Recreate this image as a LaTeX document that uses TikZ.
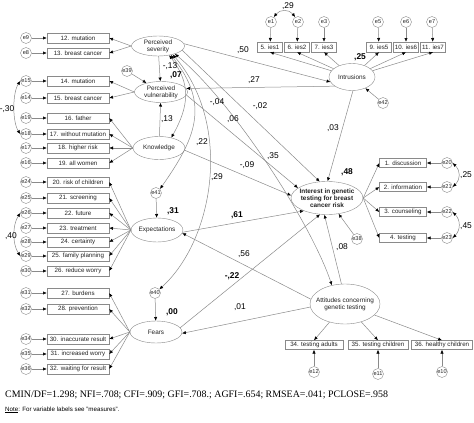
\documentclass[tikz,border=0pt]{standalone}
\usepackage{fontspec}
\setmainfont{Liberation Serif}
\setsansfont{Liberation Sans}
\usetikzlibrary{arrows.meta,shapes.geometric}
\definecolor{LineGray}{HTML}{8A8A8A}
\definecolor{InkText}{HTML}{222222}

\begin{document}
\begin{tikzpicture}[
  x=1pt,y=-1pt,
  >={Latex[length=3.8pt,width=3.3pt,color=black]},
  lat/.style={ellipse, draw=LineGray, inner sep=0pt, align=center, text=InkText, font=\sffamily\fontsize{6.4}{7.2}\selectfont},
  ind/.style={rectangle, draw=LineGray, inner sep=0.8pt, minimum height=10, text=InkText, font=\sffamily\fontsize{6.2}{7}\selectfont},
  err/.style={circle, draw=LineGray, inner sep=0pt, minimum size=11, text=InkText, font=\sffamily\fontsize{5.6}{6}\selectfont},
  reg/.style={->, draw=LineGray, line width=0.5pt},
  cov/.style={<->, draw=LineGray, line width=0.5pt},
  coef/.style={inner sep=0pt, font=\sffamily\fontsize{8.4}{9}\selectfont},
  rsq/.style={inner sep=0pt, font=\sffamily\bfseries\fontsize{8.4}{9}\selectfont}
]
\useasboundingbox (0,0) rectangle (474,423);

% latent variables
\node[lat, minimum width=53, minimum height=20] (sev) at (158,46) {Perceived\\severity};
\node[lat, minimum width=53, minimum height=21] (vul) at (161,92) {Perceived\\vulnerability};
\node[lat, minimum width=52, minimum height=23] (kno) at (159,148) {Knowledge};
\node[lat, minimum width=50, minimum height=24] (exp) at (157,230) {Expectations};
\node[lat, minimum width=52, minimum height=22] (fea) at (156,332) {Fears};
\node[lat, minimum width=46, minimum height=27] (int) at (352,77) {Intrusions};
\node[lat, minimum width=72, minimum height=33, inner xsep=-3pt, font=\sffamily\bfseries\fontsize{6.4}{7.2}\selectfont] (gen) at (327,198) {Interest in genetic\\testing for breast\\cancer risk};
\node[lat, minimum width=70, minimum height=40, inner xsep=-6pt] (att) at (345,304) {Attitudes concerning\\genetic testing};

% residuals of latents
\node[err] (e39) at (127,71) {e39};
\node[err] (e41) at (156,193) {e41};
\node[err] (e40) at (155,293) {e40};
\node[err] (e42) at (383,103) {e42};
\node[err] (e38) at (357,239) {e38};

% left indicators
\node[ind, minimum width=62] (i12) at (78,38) {12. mutation};
\node[ind, minimum width=62] (i13) at (78,53) {13. breast cancer};
\node[ind, minimum width=62] (i14) at (78,81) {14. mutation};
\node[ind, minimum width=62] (i15) at (78,98) {15. breast cancer};
\node[ind, minimum width=62] (i16) at (78,118) {16. father};
\node[ind, minimum width=62] (i17) at (78,134) {17. without mutation};
\node[ind, minimum width=62] (i18) at (78,148) {18. higher risk};
\node[ind, minimum width=62] (i19) at (78,163) {19. all women};
\node[ind, minimum width=62] (i20) at (78,182) {20. risk of children};
\node[ind, minimum width=62] (i21) at (78,198) {21. screening};
\node[ind, minimum width=62] (i22) at (78,213) {22. future};
\node[ind, minimum width=62] (i23) at (78,228) {23. treatment};
\node[ind, minimum width=62] (i24) at (78,242) {24. certainty};
\node[ind, minimum width=62] (i25) at (78,256) {25. family planning};
\node[ind, minimum width=62] (i26) at (78,271) {26. reduce worry};
\node[ind, minimum width=62] (i27) at (78,293) {27. burdens};
\node[ind, minimum width=62] (i28) at (78,309) {28. prevention};
\node[ind, minimum width=62] (i30) at (78,339) {30. inaccurate result};
\node[ind, minimum width=62] (i31) at (78,354) {31. increased worry};
\node[ind, minimum width=62] (i32) at (78,369) {32. waiting for result};

\node[err] (e9) at (26,38) {e9};
\node[err] (e8) at (26,53) {e8};
\node[err] (e15) at (26,81) {e15};
\node[err] (e14) at (26,98) {e14};
\node[err] (e19) at (26,118) {e19};
\node[err] (e18) at (26,134) {e18};
\node[err] (e17) at (26,148) {e17};
\node[err] (e16) at (26,163) {e16};
\node[err] (e24) at (26,182) {e24};
\node[err] (e25) at (26,198) {e25};
\node[err] (e26) at (26,213) {e26};
\node[err] (e27) at (26,228) {e27};
\node[err] (e28) at (26,242) {e28};
\node[err] (e29) at (26,256) {e29};
\node[err] (e30) at (26,271) {e30};
\node[err] (e31) at (26,293) {e31};
\node[err] (e32) at (26,309) {e32};
\node[err] (e34) at (26,339) {e34};
\node[err] (e35) at (26,354) {e35};
\node[err] (e36) at (26,369) {e36};

% intrusion items
\node[ind, minimum width=25] (b5) at (270,47) {5. ies1};
\node[ind, minimum width=25] (b6) at (297,47) {6. ies2};
\node[ind, minimum width=25] (b7) at (324,47) {7. ies3};
\node[ind, minimum width=25] (b9) at (379,47) {9. ies5};
\node[ind, minimum width=25] (b10) at (406,47) {10. ies6};
\node[ind, minimum width=25] (b11) at (433,47) {11. ies7};
\node[err] (e1) at (271,22) {e1};
\node[err] (e2) at (298,22) {e2};
\node[err] (e3) at (324,22) {e3};
\node[err] (e5) at (378,22) {e5};
\node[err] (e6) at (406,22) {e6};
\node[err] (e7) at (432,22) {e7};

% interest items
\node[ind, minimum width=47, minimum height=9] (r1) at (403,163) {1. discussion};
\node[ind, minimum width=47, minimum height=9] (r2) at (403,187) {2. information};
\node[ind, minimum width=47, minimum height=9] (r3) at (403,212) {3. counseling};
\node[ind, minimum width=47, minimum height=9] (r4) at (403,238) {4. testing};
\node[err] (e20) at (447,163) {e20};
\node[err] (e21) at (447,187) {e21};
\node[err] (e22) at (447,212) {e22};
\node[err] (e23) at (447,238) {e23};

% attitude items
\node[ind, minimum width=58, minimum height=9] (a34) at (314,345) {34. testing adults};
\node[ind, minimum width=60, minimum height=9] (a35) at (378,345) {35. testing children};
\node[ind, minimum width=61, minimum height=9] (a36) at (442,345) {36. healthy children};
\node[err] (e12) at (314,372) {e12};
\node[err] (e11) at (378,374) {e11};
\node[err] (e10) at (442,372) {e10};

% measurement arrows
\foreach \e/\i in {e9/i12,e8/i13,e15/i14,e14/i15,e19/i16,e18/i17,e17/i18,e16/i19,e24/i20,e25/i21,e26/i22,e27/i23,e28/i24,e29/i25,e30/i26,e31/i27,e32/i28,e34/i30,e35/i31,e36/i32}
  \draw[reg] (\e) -- (\i);
\foreach \i in {i12,i13} \draw[reg] (sev.west) -- (\i.east);
\foreach \i in {i14,i15} \draw[reg] (vul.west) -- (\i.east);
\foreach \i in {i16,i17,i18,i19} \draw[reg] (kno.west) -- (\i.east);
\foreach \i in {i20,i21,i22,i23,i24,i25,i26} \draw[reg] (exp.west) -- (\i.east);
\foreach \i in {i27,i28,i30,i31,i32} \draw[reg] (fea.west) -- (\i.east);
\foreach \e/\i in {e1/b5,e2/b6,e3/b7,e5/b9,e6/b10,e7/b11} \draw[reg] (\e) -- (\i);
\foreach \i in {b5,b6,b7,b9,b10,b11} \draw[reg] (int) -- (\i.south);
\foreach \e/\i in {e20/r1,e21/r2,e22/r3,e23/r4} \draw[reg] (\e) -- (\i);
\foreach \i in {r1,r2,r3,r4} \draw[reg] (gen.east) -- (\i.west);
\foreach \e/\i in {e12/a34,e11/a35,e10/a36} \draw[reg] (\e) -- (\i);
\foreach \i in {a34,a35,a36} \draw[reg] (att) -- (\i.north);

% residual arrows
\draw[reg] (e39) -- (vul);
\draw[reg] (e41) -- (exp);
\draw[reg] (e40) -- (fea);
\draw[reg] (e42) -- (int);
\draw[reg] (e38) -- (gen);

% structural paths
\draw[reg] (sev) -- (vul);
\draw[reg] (kno) -- (vul);
\draw[reg] (sev.5) -- (int.193);
\draw[reg] (int.208) -- (vul.8);
\draw[reg] (sev.-10) -- (gen.114);
\draw[reg] (vul.-7) -- (gen.161);
\draw[reg] (kno.-5) -- (gen.176);
\draw[reg] (int.-86) -- (gen.88);
\draw[reg] (exp.-5) -- (gen.209);
\draw[reg] (fea.10) -- (gen.247);
\draw[reg] (att.100) -- (gen.261);
\draw[reg] (att.172) -- (exp.-7);
\draw[reg] (att.185) -- (fea.-3);

% covariances
\draw[cov] (sev.-40) .. controls +(22,28) and +(18,-32) .. (kno.40);
\draw[cov] (sev.-35) .. controls +(40,50) and +(35,-50) .. (e41.45);
\draw[cov] (sev.-30) .. controls +(60,70) and +(55,-50) .. (e40.40);
\draw[cov] (sev.-25) .. controls +(60,50) and +(-20,-60) .. (att.125);
\draw[cov] (e15.west) .. controls +(-8,12) and +(-8,-12) .. (e18.west);
\draw[cov] (e26.west) .. controls +(-8,12) and +(-8,-12) .. (e29.west);
\draw[cov] (e20.east) .. controls +(8,8) and +(8,-8) .. (e21.east);
\draw[cov] (e22.east) .. controls +(8,8) and +(8,-8) .. (e23.east);
\draw[cov] (e1.60) .. controls +(6,-8) and +(-6,-8) .. (e2.120);

% estimates
\node[coef] at (243,50) {,50};
\node[coef] at (254,80) {,27};
\node[coef] at (170,66) {-,13};
\node[rsq] at (176,75) {,07};
\node[coef] at (167,119) {,13};
\node[coef] at (217,102) {-,04};
\node[coef] at (233,119) {,06};
\node[coef] at (260,106) {-,02};
\node[coef] at (202,142) {,22};
\node[coef] at (273,156) {,35};
\node[coef] at (217,177) {,29};
\node[coef] at (247,165) {-,09};
\node[rsq] at (173,211) {,31};
\node[rsq] at (237,215) {,61};
\node[coef] at (244,254) {,56};
\node[rsq] at (232,276) {-,22};
\node[coef] at (240,307) {,01};
\node[rsq] at (172,312) {,00};
\node[rsq] at (347,172) {,48};
\node[coef] at (342,247) {,08};
\node[coef] at (333,128) {,03};
\node[rsq] at (360,57) {,25};
\node[coef] at (288,6) {,29};
\node[coef] at (466,175) {,25};
\node[coef] at (466,226) {,45};
\node[coef] at (7,109) {-,30};
\node[coef] at (11,236) {,40};

% fit indices and note
\node[anchor=west, inner sep=0pt, font=\fontsize{9.93}{11}\selectfont] (fit) at (5,395) {CMIN/DF=1.298; NFI=.708; CFI=.909; GFI=.708.; AGFI=.654; RMSEA=.041; PCLOSE=.958};
\node[anchor=west, inner sep=0pt, font=\sffamily\fontsize{6.2}{7}\selectfont] (note) at (5,410) {\underline{Note}: For variable labels see "measures".};
\end{tikzpicture}
\end{document}
